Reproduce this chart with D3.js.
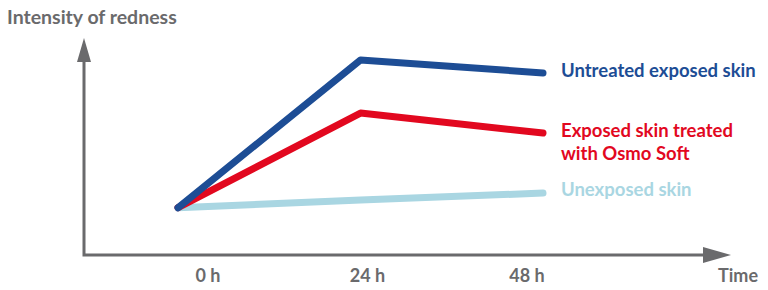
<!DOCTYPE html>
<html>
<head>
<meta charset="utf-8">
<script src="https://cdn.jsdelivr.net/npm/d3@7"></script>
<style>
  body { margin: 0; background: #fff; }
  text { font-family: Lato, "Open Sans", sans-serif; font-weight: bold; }
</style>
</head>
<body>
<div id="chart"></div>
<script>
// data
var hours = [0, 24, 48];
var tickLabels = ["0 h", "24 h", "48 h"];
var untreated = [22, 90.7, 84.7];
var treated = [22, 66, 56.7];
var unexposed = [22, 25.6, 28.8];
var seriesNames = ["Untreated exposed skin", "Exposed skin treated|with Osmo Soft", "Unexposed skin"];
var seriesColors = ["#1d4d95", "#e2081f", "#a9d6e2"];

var width = 768, height = 290;

var svg = d3.select("#chart")
  .append("svg")
    .attr("width", width)
    .attr("height", height);

var x = d3.scaleLinear().domain([0, 48]).range([178, 543]);
var y = d3.scaleLinear().domain([0, 100]).range([255, 40]);
// tick labels sit a bit off the data points in the original
var xLab = d3.scalePoint().domain(tickLabels).range([208, 527]);

var axisColor = "#6a6a6c";

// axes
svg.append("path")
  .attr("d", "M84,58 L84,255 L712,255")
  .attr("fill", "none")
  .attr("stroke", axisColor)
  .attr("stroke-width", 3);
// arrow heads
svg.append("path")
  .attr("d", "M84,38 L77,62 L91,62 Z")
  .attr("fill", axisColor);
svg.append("path")
  .attr("d", "M731,255 L703,247 L703,263 Z")
  .attr("fill", axisColor);

svg.append("text")
  .attr("x", 7)
  .attr("y", 24)
  .attr("fill", axisColor)
  .style("font-size", "19.5px")
  .text("Intensity of redness");

svg.append("text")
  .attr("x", 758)
  .attr("y", 282)
  .attr("text-anchor", "end")
  .attr("fill", axisColor)
  .style("font-size", "18px")
  .text("Time");

svg.selectAll(".tick-label")
  .data(tickLabels)
  .enter()
  .append("text")
    .attr("class", "tick-label")
    .attr("x", function(d) { return xLab(d); })
    .attr("y", 282)
    .attr("text-anchor", "middle")
    .attr("fill", axisColor)
    .style("font-size", "18px")
    .text(function(d) { return d; });

// lines
var line = d3.line()
  .x(function(d, i) { return x(hours[i]); })
  .y(function(d) { return y(d); });

var allSeries = [unexposed, treated, untreated];
var allColors = [seriesColors[2], seriesColors[1], seriesColors[0]];

svg.selectAll(".series")
  .data(allSeries)
  .enter()
  .append("path")
    .attr("class", "series")
    .attr("d", line)
    .attr("fill", "none")
    .attr("stroke", function(d, i) { return allColors[i]; })
    .attr("stroke-width", 7)
    .attr("stroke-linecap", "round")
    .attr("stroke-linejoin", "round");

// labels at the end of each line
var labelY = [77, 137, 196];
[untreated, treated, unexposed].forEach(function(s, i) {
  var t = svg.append("text")
    .attr("x", 561)
    .attr("y", labelY[i])
    .attr("fill", seriesColors[i])
    .style("font-size", "18.5px");
  seriesNames[i].split("|").forEach(function(part, j) {
    t.append("tspan")
      .attr("x", 561)
      .attr("dy", j == 0 ? 0 : 23)
      .text(part);
  });
});
</script>
</body>
</html>
